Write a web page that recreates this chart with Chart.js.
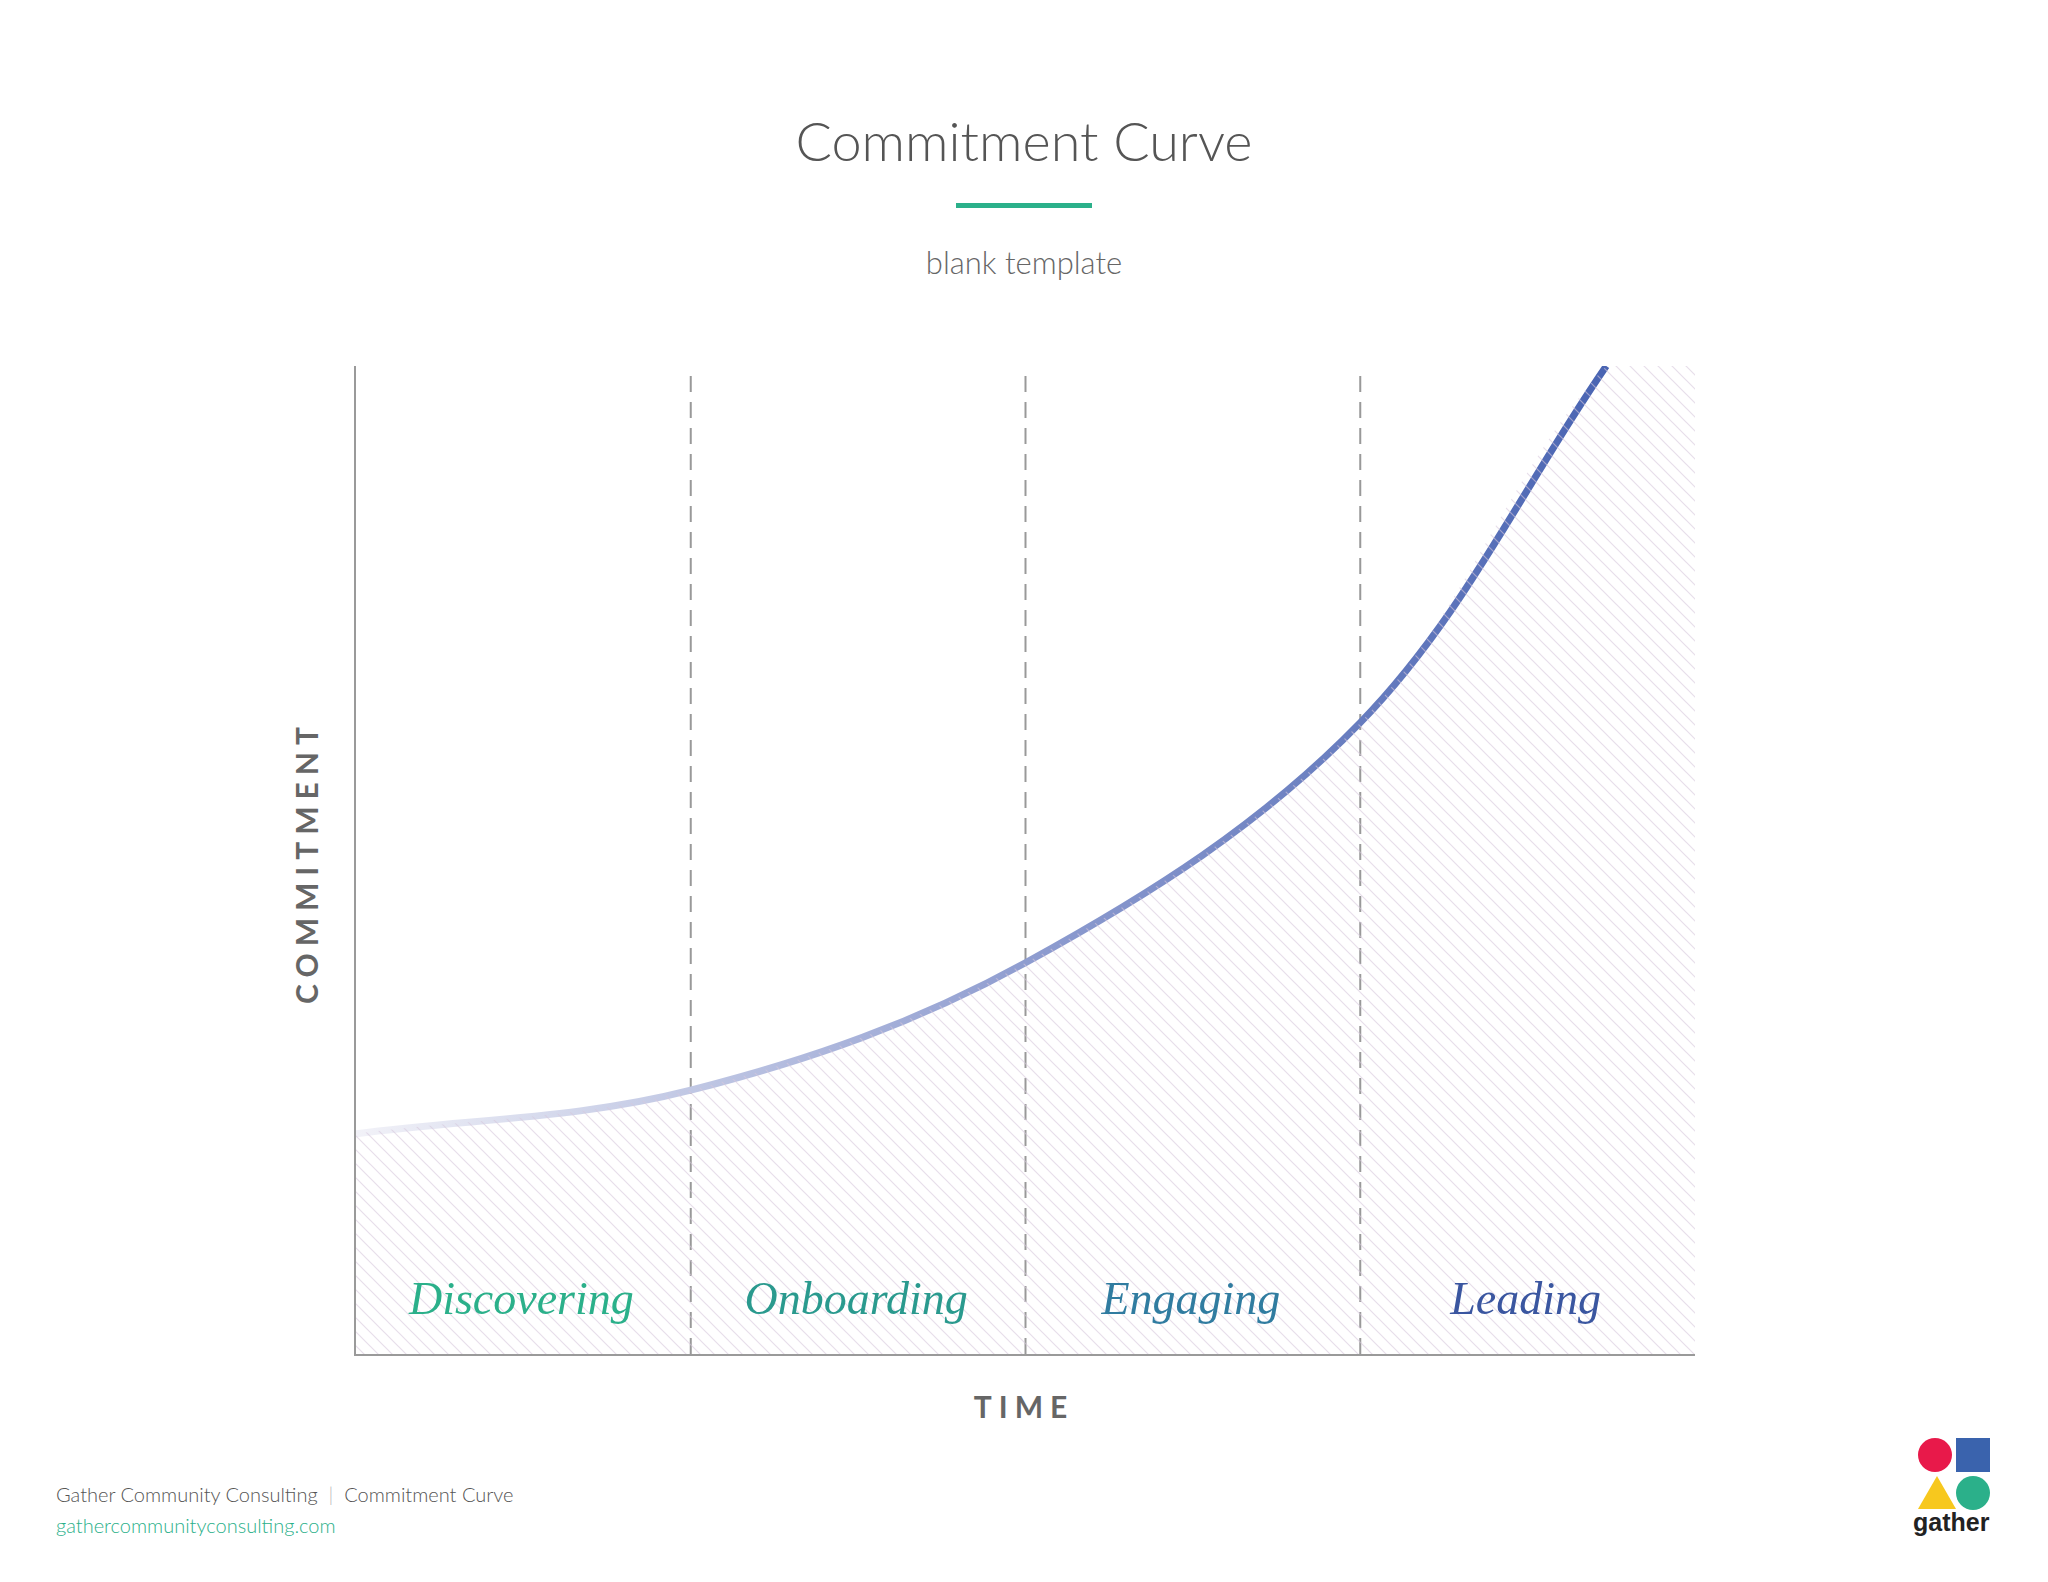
<!DOCTYPE html>
<html><head><meta charset="utf-8">
<script src="https://cdn.jsdelivr.net/npm/chart.js"></script>
<style>
body{margin:0;width:2048px;height:1582px;background:#fff;position:relative;font-family:Lato,"Open Sans",sans-serif;overflow:hidden}
.t{position:absolute;white-space:nowrap}
#wrap{position:absolute;left:354px;top:366px;width:1339px;height:988px;border-left:2px solid #9a9a9a;border-bottom:2px solid #9a9a9a;box-sizing:content-box}
.stage{position:absolute;top:1272px;font-family:"Liberation Serif",serif;font-style:italic;font-size:46px;transform:translateX(-50%)}
</style></head><body>
<div class="t" style="left:0;width:2048px;text-align:center;top:108px;font-size:54px;font-weight:300;color:#555">Commitment Curve</div>
<div style="position:absolute;left:956px;top:203px;width:136px;height:5px;background:#2bb08a"></div>
<div class="t" style="left:0;width:2048px;text-align:center;top:243px;font-size:31px;font-weight:300;color:#666">blank template</div>
<div id="wrap"><canvas id="c"></canvas></div>
<div class="t" style="left:306px;top:862px;transform:translate(-50%,-50%) rotate(-90deg);font-size:30px;font-weight:700;letter-spacing:7px;color:#666">COMMITMENT</div>
<div class="t" style="left:0;width:2048px;text-align:center;top:1388px;font-size:30px;font-weight:700;letter-spacing:7px;color:#666">TIME</div>
<div id="stages"></div>
<div class="t" style="left:56px;top:1482px;font-size:20px;font-weight:300;color:#555">Gather Community Consulting &nbsp;<span style="color:#bbb">|</span>&nbsp; Commitment Curve</div>
<div class="t" style="left:56px;top:1513px;font-size:20px;font-weight:300;color:#2bb08a">gathercommunityconsulting.com</div>
<div style="position:absolute;left:1918px;top:1438px;width:34px;height:34px;border-radius:50%;background:#e8194a"></div>
<div style="position:absolute;left:1956px;top:1438px;width:34px;height:34px;background:#3a63ad"></div>
<div style="position:absolute;left:1918px;top:1476px;width:0;height:0;border-left:19px solid transparent;border-right:19px solid transparent;border-bottom:33px solid #f7c81e"></div>
<div style="position:absolute;left:1956px;top:1476px;width:34px;height:34px;border-radius:50%;background:#2bb08a"></div>
<div class="t" style="left:1913px;top:1508px;font-size:25px;font-weight:900;color:#222;font-family:'Liberation Sans',sans-serif">gather</div>
<script>
const stages=["Discovering","Onboarding","Engaging","Leading"];
const stageColors=["#2bb08a","#2a9a8e","#307ca0","#3a56a0"];
const curveX=[0,1,2,3,3.735];
const curveY=[0.223,0.267,0.396,0.639,1.0];
const dividers=[1,2,3];

const st=document.getElementById('stages');
stages.forEach((s,i)=>{const d=document.createElement('div');d.className='stage';d.textContent=s;d.style.color=stageColors[i];d.style.left=(354+1339*(i+0.5)/4)+'px';st.appendChild(d);});

const pc=document.createElement('canvas');pc.width=14;pc.height=14;
const px=pc.getContext('2d');px.strokeStyle='rgba(215,200,220,0.6)';px.lineWidth=1.2;
px.beginPath();px.moveTo(0,0);px.lineTo(14,14);px.moveTo(-7,7);px.lineTo(7,21);px.moveTo(7,-7);px.lineTo(21,7);px.stroke();
const ctx0=document.getElementById('c').getContext('2d');
const pattern=ctx0.createPattern(pc,'repeat');

const lineData=curveX.map((x,i)=>({x,y:curveY[i]}));
const fillData=lineData.concat([{x:4,y:1}]);

const dash={id:'dash',beforeDatasetsDraw(ch){const c=ch.ctx,xs=ch.scales.x,a=ch.chartArea;c.save();c.strokeStyle='#999';c.lineWidth=2;c.setLineDash([16,10]);
dividers.forEach(v=>{const p=xs.getPixelForValue(v);c.beginPath();c.moveTo(p,a.top+10);c.lineTo(p,a.bottom);c.stroke();});c.restore();}};

new Chart(ctx0,{type:'line',
data:{datasets:[
{data:fillData,borderWidth:0,borderColor:'transparent',pointRadius:0,fill:'origin',backgroundColor:pattern,tension:0.35},
{data:lineData,borderWidth:7,pointRadius:0,fill:false,tension:0.35,clip:false,
 borderColor:(ctx)=>{const a=ctx.chart.chartArea;if(!a)return '#4563b0';const g=ctx.chart.ctx.createLinearGradient(a.left,0,a.right,0);g.addColorStop(0,'#f2f2f8');g.addColorStop(0.5,'#8f9dd0');g.addColorStop(1,'#3f5cae');return g;}}
]},
options:{responsive:true,maintainAspectRatio:false,animation:false,events:[],layout:{padding:0},
plugins:{legend:{display:false},tooltip:{enabled:false}},
scales:{x:{type:'linear',min:0,max:4,display:false},y:{min:0,max:1,display:false}}},
plugins:[dash]});
</script>
</body></html>
